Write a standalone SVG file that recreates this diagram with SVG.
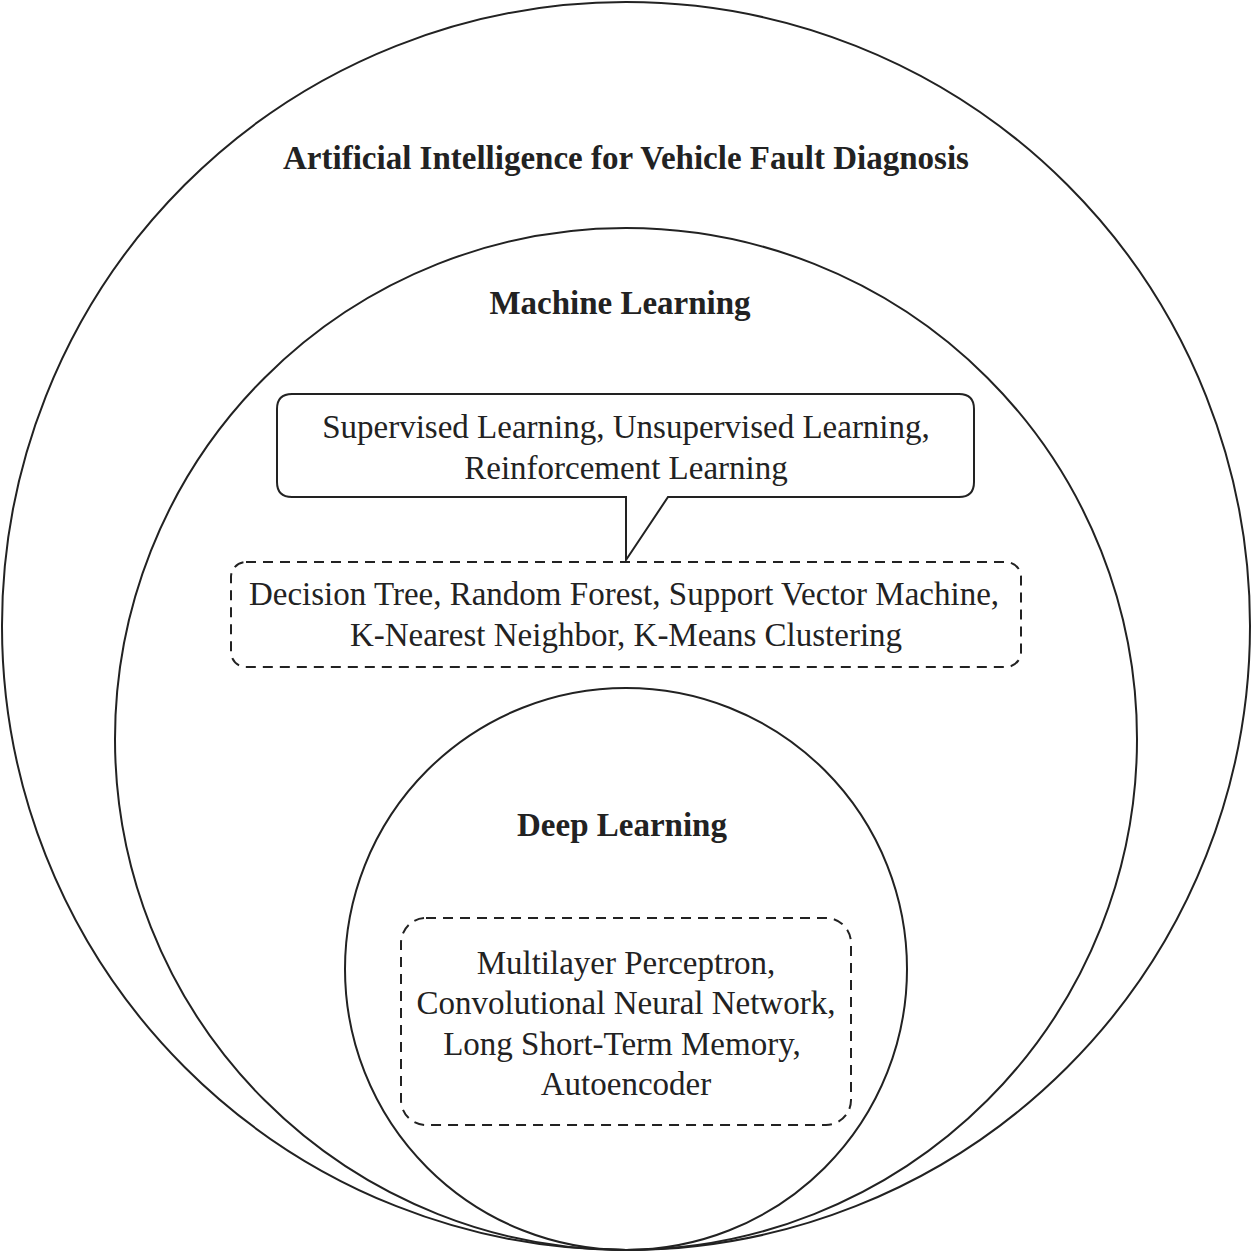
<svg xmlns="http://www.w3.org/2000/svg" width="1252" height="1252" viewBox="0 0 1252 1252">
<style>
.c{fill:none;stroke:#222;stroke-width:2}
.d{fill:none;stroke:#222;stroke-width:2;stroke-dasharray:10 7}
text{font-family:"Liberation Serif",serif;font-size:33px;fill:#222;text-anchor:middle}
.b{font-weight:bold;font-size:33px}
</style>
<rect width="1252" height="1252" fill="#fff"/>
<g id="ai"><circle class="c" cx="626" cy="626" r="624"/><text class="b" x="626" y="169">Artificial Intelligence for Vehicle Fault Diagnosis</text></g>
<g id="ml"><circle class="c" cx="626" cy="739" r="511"/><text class="b" x="620" y="314">Machine Learning</text></g>
<g id="callout"><path class="c" d="M292,394 H959 Q974,394 974,409 V482 Q974,497 959,497 H668 L626,560 V497 H292 Q277,497 277,482 V409 Q277,394 292,394 Z"/>
<text x="626" y="438">Supervised Learning, Unsupervised Learning,</text><text x="626" y="479">Reinforcement Learning</text></g>
<g id="mlalg"><rect class="d" x="231" y="562" width="790" height="105" rx="15"/>
<text x="624" y="605">Decision Tree, Random Forest, Support Vector Machine,</text><text x="626" y="646">K-Nearest Neighbor, K-Means Clustering</text></g>
<g id="dl"><circle class="c" cx="626" cy="969" r="281"/><text class="b" x="622" y="836">Deep Learning</text></g>
<g id="dlalg"><rect class="d" x="401" y="918" width="450" height="207" rx="25"/>
<text x="626" y="974">Multilayer Perceptron,</text><text x="626" y="1014">Convolutional Neural Network,</text><text x="622" y="1055">Long Short-Term Memory,</text><text x="626" y="1095">Autoencoder</text></g>
<g id="connectors"/>
</svg>
